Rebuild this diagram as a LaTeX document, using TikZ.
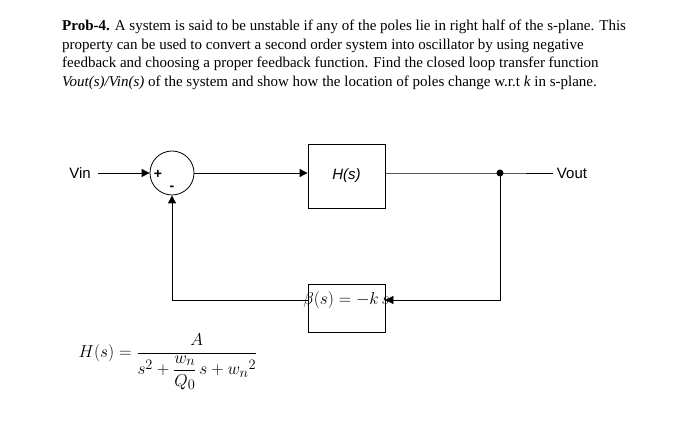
\documentclass[tikz,border=0pt]{standalone}
\usepackage{amsmath}
\usepackage{fontspec}
\setmainfont{Liberation Serif}
\setsansfont{Liberation Sans}
\usetikzlibrary{arrows.meta, positioning}
\tikzstyle{blk} = [rectangle, draw, thick, minimum width=77pt, minimum height=64pt, font=\sffamily\fontsize{15}{18}\selectfont]
\tikzstyle{sig} = [-{Triangle[length=8pt,width=8pt]}, thick]
\tikzstyle{lbl} = [font=\sffamily\fontsize{15}{18}\selectfont]
\begin{document}
\begin{tikzpicture}[x=1pt, y=-1pt]
        \useasboundingbox (0,0) rectangle (692,427);
        % Problem statement
        \node[anchor=north west, align=left, inner sep=0pt, font=\fontsize{15}{18.6}\selectfont] (prob) at (62,20)
        {\textbf{Prob-4.} A system is said to be unstable if any of the poles lie in right half of the s-plane. This\\
        property can be used to convert a second order system into oscillator by using negative\\
        feedback and choosing a proper feedback function. Find the closed loop transfer function\\
        \textit{Vout(s)/Vin(s)} of the system and show how the location of poles change w.r.t \textit{k} in s-plane.};

        % Forward path
        \node[lbl] (vin) at (80,173) {Vin};
        \node[circle, draw, thick, minimum size=44pt, inner sep=0pt] (sum) at (172,173) {};
        \node[font=\sffamily\bfseries\fontsize{14}{16}\selectfont] (plus) at (158,174) {+};
        \node[font=\sffamily\bfseries\fontsize{14}{16}\selectfont] (minus) at (172,188) {-};
        \node[blk, font=\sffamily\itshape\fontsize{15}{18}\selectfont] (plant) at (346.5,176) {H(s)};
        \coordinate (tap) at (500,173);
        \node[lbl] (vout) at (572,173) {Vout};

        \draw[sig] (vin.east) ++(4,0) -- (sum.west);
        \draw[sig] (sum.east) -- (plant.west |- sum.east);
        \draw[thick] (plant.east |- tap) -- (tap) -- (vout.west);
        \fill (tap) circle (3.5pt);

        % Feedback path
        \node[blk, minimum height=48pt, anchor=north] (fb) at (346.5,284) {};
        \node[font=\fontsize{16}{18}\selectfont] (beta) at (346.5,300) {$\beta(s) = -k\,s$};
        \draw[sig] (tap) |- (fb.east |- beta);
        \draw[sig] (fb.west |- beta) -| (sum.south);

        % Transfer function
        \node[font=\fontsize{19}{22}\selectfont] (hs) at (168,362)
        {$H(s) = \dfrac{A}{s^{2} + \dfrac{w_n}{Q_0}\,s + {w_n}^{2}}$};
\end{tikzpicture}
\end{document}
